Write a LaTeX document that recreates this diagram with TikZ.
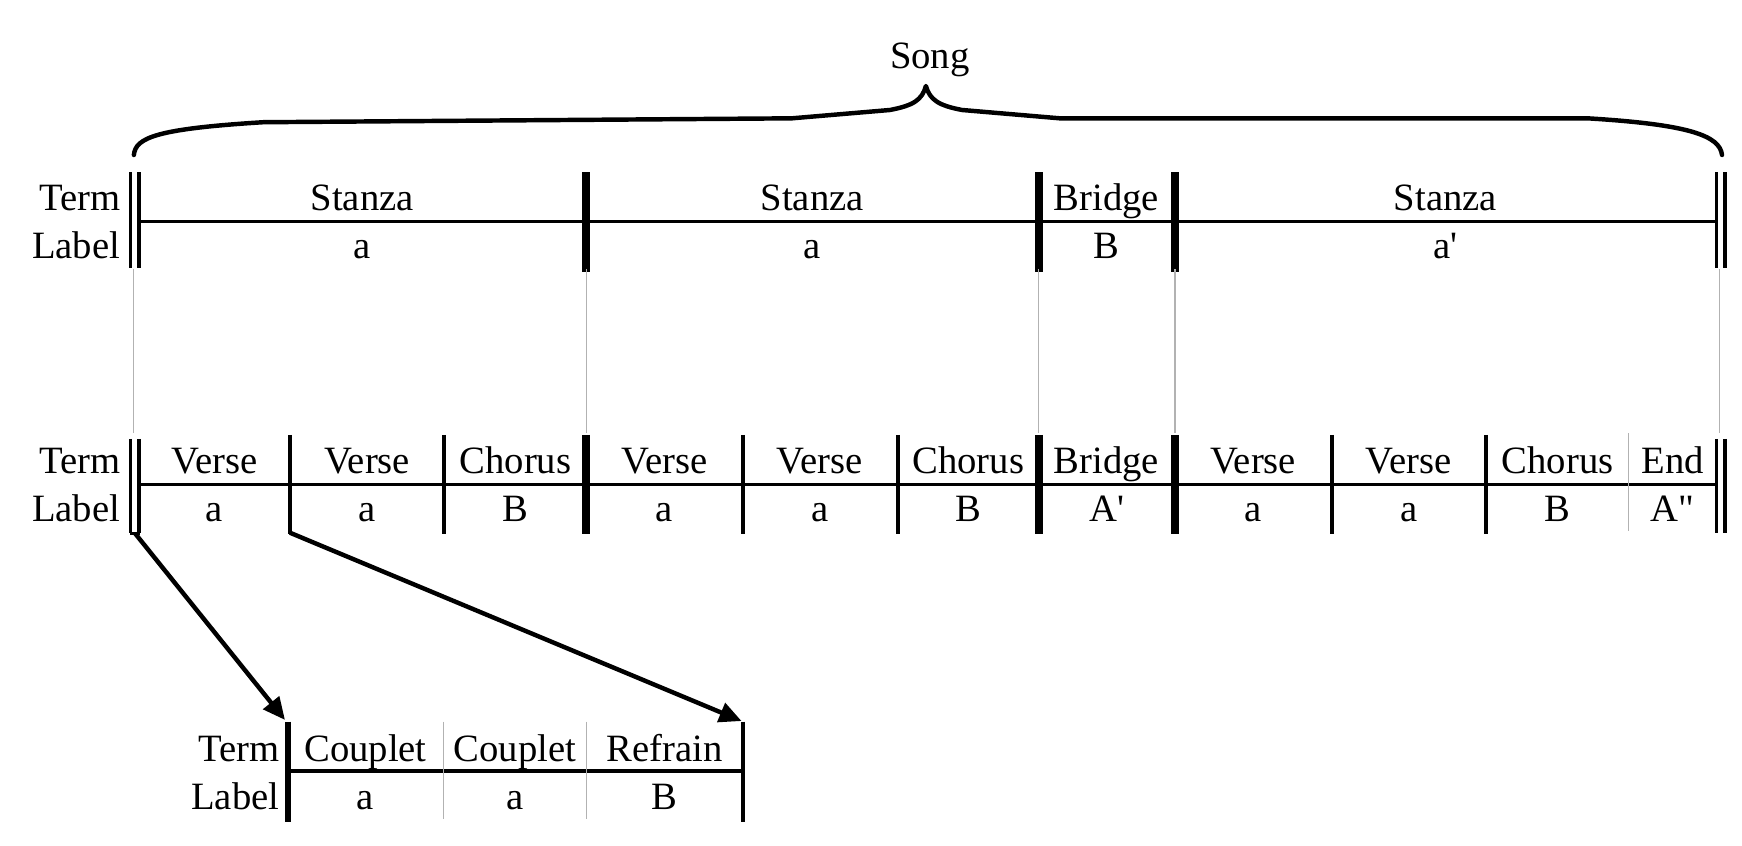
\documentclass[tikz,border=0pt]{standalone}
\usepackage{fontspec}
\setmainfont{Liberation Serif}[Ligatures=TeXOff]
\usetikzlibrary{arrows.meta}
\begin{document}
\begin{tikzpicture}[x=0.5pt,y=-0.5pt,line cap=butt,
  txt/.style={font=\fontsize{17.4}{20}\selectfont,inner sep=0pt,anchor=base},
  lbl/.style={txt,anchor=base east},
  hline/.style={line width=1.5pt},
  thickbar/.style={line width=3.4pt},
  medbar/.style={line width=1.8pt},
  dbl/.style={line width=1.5pt},
  guide/.style={line width=0.5pt,draw=black!30},
  arr/.style={line width=2pt,-{Triangle[length=10pt,width=9pt]}},
  bracestyle/.style={line width=2pt,line join=round,line cap=round}]
\useasboundingbox (0,0) rectangle (1568,761);

% ---------- Song brace ----------
\node[txt] (song) at (837,61.5) {Song};
\draw[bracestyle] (120.5,139.5) .. controls (122,124) and (140,116) .. (237,110)
  -- (712.8,106.5) -- (801,99) .. controls (822,95) and (830,90) .. (833.4,77.4)
  .. controls (837,90) and (845,95) .. (866,99) -- (954,106.5) -- (1429,106.5)
  .. controls (1520,112) and (1548,122) .. (1550,139.5);

% ---------- Row 1 ----------
\draw[hline] (125,199.5) -- (1545,199.5);
\foreach \x in {117.7,125,1545,1552.6} \draw[dbl] (\x,155) -- (\x,241);
\foreach \x in {527.6,935,1057.6} \draw[thickbar] (\x,155) -- (\x,244.5);
\node[lbl] (t1) at (108.5,189.6) {Term};
\node[lbl] (l1) at (108.5,233) {Label};
\node[txt] (t1a) at (326,189.6) {Stanza};
\node[txt] (l1a) at (326,233) {a};
\node[txt] (t1b) at (731,189.6) {Stanza};
\node[txt] (l1b) at (731,233) {a};
\node[txt] (t1c) at (996,189.6) {Bridge};
\node[txt] (l1c) at (996,233) {B};
\node[txt] (t1d) at (1301,189.6) {Stanza};
\node[txt] (l1d) at (1301,233) {a'};

% guides between rows
\foreach \x in {120,527.6,935,1057.6,1547.6} \draw[guide] (\x,242) -- (\x,390);

% ---------- Row 2 ----------
\draw[hline] (125,436) -- (1545,436);
\foreach \x in {117.7,125,1545,1552.6} \draw[dbl] (\x,395) -- (\x,480);
\draw[dbl] (117,480) -- (125.7,480);
\foreach \x in {261,400,668.7,808,1199,1337.6} \draw[medbar] (\x,391.5) -- (\x,480.5);
\foreach \x in {527.6,935,1057.6} \draw[thickbar] (\x,391.5) -- (\x,480.5);
\draw[guide] (1466,390) -- (1466,478);
\node[lbl] (t2) at (108.5,426.6) {Term};
\node[lbl] (l2) at (108.5,469.5) {Label};
\foreach \c/\t/\l [count=\i] in {193/Verse/a,330.5/Verse/a,464/Chorus/B,598/Verse/a,
  738/Verse/a,871.5/Chorus/B,996/Bridge/A',1128/Verse/a,1268/Verse/a,1402/Chorus/B,
  1505.5/End/A"}{
  \node[txt] (t2-\i) at (\c,426.6) {\t};
  \node[txt] (l2-\i) at (\c,469.5) {\l};
}

% ---------- Row 3 ----------
\draw[hline] (259,694) -- (668.7,694);
\draw[line width=2.8pt] (259,649.6) -- (259,739.6);
\draw[medbar] (668.7,649.6) -- (668.7,739.6);
\foreach \x in {399,528} \draw[guide] (\x,649.6) -- (\x,737);
\node[lbl] (t3) at (251.8,685.5) {Term};
\node[lbl] (l3) at (251.8,729) {Label};
\node[txt] (t3a) at (329,685.5) {Couplet};
\node[txt] (l3a) at (329,729) {a};
\node[txt] (t3b) at (463.5,685.5) {Couplet};
\node[txt] (l3b) at (463.5,729) {a};
\node[txt] (t3c) at (598,685.5) {Refrain};
\node[txt] (l3c) at (598,729) {B};

% ---------- Arrows ----------
\coordinate (verseA) at (121.5,480);
\coordinate (verseB) at (261,479.5);
\coordinate (subL) at (256.5,648);
\coordinate (subR) at (667.5,649);
\draw[arr] (verseA) -- (subL);
\draw[arr] (verseB) -- (subR);
\end{tikzpicture}
\end{document}
